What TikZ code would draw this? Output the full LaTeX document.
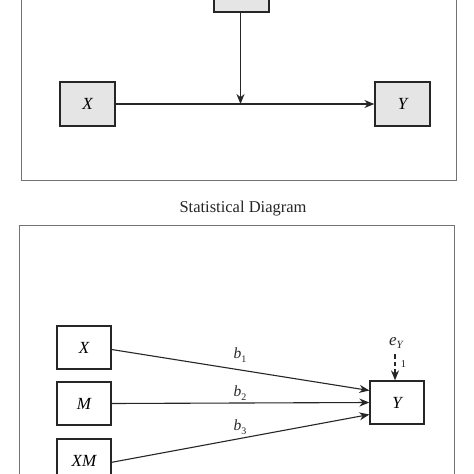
\documentclass[tikz,border=0pt]{standalone}
\usepackage{fontspec}
\setmainfont{Liberation Serif}
\usetikzlibrary{arrows.meta}
\newcommand{\sbs}[1]{\raisebox{-3.5pt}{\fontsize{10}{10}\selectfont\upshape #1}}
\begin{document}
\begin{tikzpicture}[x=1pt,y=-1pt,
  frame/.style={draw=black!55,line width=1pt},
  gbox/.style={draw=black!85,fill=black!10,line width=1.3pt,minimum width=55pt,minimum height=44pt,inner sep=0pt,font=\fontsize{17}{17}\selectfont\itshape},
  wbox/.style={draw=black!85,fill=white,line width=1.3pt,minimum width=54pt,minimum height=43pt,inner sep=0pt,font=\fontsize{17}{17}\selectfont\itshape},
  conn/.style={draw=black!85,line width=1.1pt,-{Stealth[length=10pt,width=8pt]}},
  lbl/.style={font=\fontsize{15.5}{15.5}\selectfont\itshape,inner sep=0pt,text=black!85}]
\useasboundingbox (0,0) rectangle (474,474);
\clip (0,0) rectangle (474,474);
\fill[white] (0,0) rectangle (474,474);
% top conceptual frame
\draw[frame] (21.5,-20) rectangle (456,180);
\node[gbox,minimum height=60pt] (Mtop) at (241.5,-18) {};
\node[gbox] (Xt) at (87.5,104) {X};
\node[gbox] (Yt) at (402.5,104) {Y};
\coordinate (mid) at (240.5,104);
\draw[conn] (Xt.east) -- (Yt.west);
\draw[conn] (Mtop.south -| mid) -- (mid);
% title
\node[font=\fontsize{16.5}{16.5}\selectfont,text=black!85] (title) at (243,209) {Statistical Diagram};
% statistical frame
\draw[frame] (19.5,225) rectangle (454,500);
\node[wbox] (X) at (84,347.5) {X};
\node[wbox] (M) at (84,403.5) {M};
\node[wbox] (XM) at (84,460.5) {XM};
\node[wbox] (Y) at (397,402.5) {Y};
\coordinate (Xs) at ([yshift=-2pt]X.east);
\coordinate (XMs) at ([xshift=-1pt,yshift=-2pt]XM.east);
\coordinate (Yin1) at ([yshift=12pt]Y.west);
\coordinate (Yin3) at ([yshift=-12pt]Y.west);
\draw[conn] (Xs) -- (Yin1);
\draw[conn] (M.east) -- (Y.west);
\draw[conn] (XMs) -- (Yin3);
\node[lbl] (b1) at (240,355) {b\sbs{1}};
\node[lbl] (b2) at (240,393) {b\sbs{2}};
\node[lbl] (b3) at (240,427) {b\sbs{3}};
\node[lbl,font=\fontsize{17}{17}\selectfont\itshape] (eY) at (396,343) {e\raisebox{-3.5pt}{\fontsize{11}{11}\selectfont\itshape Y}};
\coordinate (eYs) at (395,354);
\draw[conn,dash pattern=on 4.5pt off 3pt] (eYs) -- (Y.north -| eYs);
\node[font=\fontsize{10.5}{10.5}\selectfont,inner sep=0pt,text=black!85] (one) at (403.5,364) {1};
\end{tikzpicture}
\end{document}
